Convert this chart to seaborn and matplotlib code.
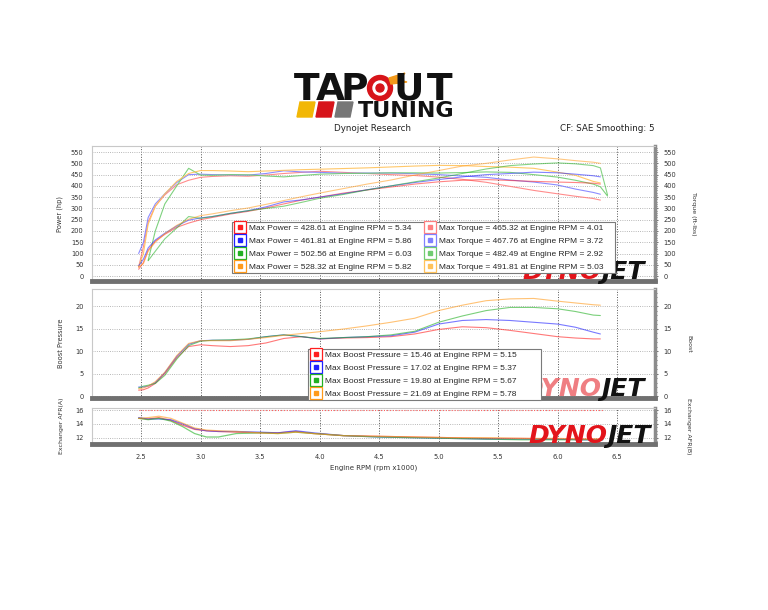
import numpy as np
import pandas as pd
import matplotlib
matplotlib.use("Agg")
import matplotlib.pyplot as plt
import seaborn as sns
from matplotlib.lines import Line2D
from matplotlib.legend_handler import HandlerTuple
from matplotlib.patches import Polygon, Circle
from matplotlib.ticker import MultipleLocator, FormatStrFormatter

sns.set_style("white")
plt.rcParams["font.family"] = ["DejaVu Sans"]

runs = ["Run 1", "Run 2", "Run 3", "Run 4"]
power_colors = ["#ff1f1f", "#2020ff", "#22b022", "#ff9a1a"]
torque_colors = ["#ff8080", "#8080ff", "#70cc70", "#ffc25a"]

# engine rpm (x1000) for power / torque / boost
rpm = [2.48, 2.52, 2.56, 2.62, 2.70, 2.80, 2.90, 3.00, 3.10, 3.25, 3.40, 3.55, 3.70, 3.85, 4.00,
       4.20, 4.40, 4.60, 4.80, 5.00, 5.20, 5.40, 5.60, 5.80, 6.00, 6.15, 6.30, 6.36, 6.42]
nan = np.nan
power_red = [30, 60, 115, 155, 185, 216, 235, 250, 260, 275, 287, 302, 320, 337, 350,
             368, 382, 395, 408, 418, 425, 428, 424, 420, 417, 415, 412, 408, nan]
power_blue = [45, 75, 125, 160, 190, 222, 248, 258, 264, 278, 290, 307, 329, 338, 350,
              365, 383, 400, 415, 428, 440, 450, 455, 461, 458, 452, 445, 440, nan]
power_green = [nan, nan, 68, 110, 165, 213, 264, 256, 264, 278, 290, 300, 310, 327, 345,
               362, 382, 400, 418, 435, 455, 475, 490, 497, 502, 498, 490, 480, 360]
power_orange = [40, 55, 110, 150, 188, 225, 252, 268, 276, 290, 302, 318, 335, 352, 368,
                388, 408, 426, 448, 468, 488, 500, 515, 528, 520, 512, 505, 500, nan]

torque_red = [40, 130, 240, 310, 360, 405, 425, 438, 442, 445, 443, 448, 455, 460, 465,
              460, 455, 450, 446, 439, 429, 416, 398, 380, 365, 354, 344, 337, nan]
torque_blue = [100, 150, 260, 320, 365, 415, 450, 452, 450, 449, 448, 455, 467, 462, 460,
               456, 457, 457, 454, 450, 444, 438, 426, 417, 404, 386, 371, 363, nan]
torque_green = [nan, nan, 70, 200, 320, 400, 478, 448, 447, 450, 449, 444, 440, 446, 452,
                455, 456, 458, 458, 457, 459, 462, 460, 450, 439, 425, 408, 396, 355]
torque_orange = [40, 100, 230, 310, 365, 420, 455, 468, 468, 466, 463, 466, 469, 472, 474,
                 477, 480, 484, 488, 491, 490, 486, 483, 478, 461, 447, 420, 413, nan]

boost_red = [1.3, 1.4, 1.8, 2.8, 5.0, 8.5, 11.0, 11.4, 11.2, 11.0, 11.2, 11.8, 12.8, 13.2, 12.7,
             12.9, 13.0, 13.2, 13.8, 14.8, 15.4, 15.2, 14.6, 13.9, 13.2, 12.9, 12.7, 12.7, nan]
boost_blue = [2.0, 2.0, 2.2, 3.0, 5.2, 8.8, 11.5, 12.3, 12.4, 12.4, 12.6, 13.2, 13.6, 13.2, 12.7,
              13.0, 13.2, 13.4, 14.2, 16.0, 16.8, 17.0, 16.8, 16.4, 16.0, 15.3, 14.2, 13.8, nan]
boost_green = [1.8, 2.2, 2.4, 2.8, 4.6, 8.2, 11.2, 12.2, 12.4, 12.5, 12.7, 13.2, 13.6, 13.2, 12.8,
               13.0, 13.2, 13.6, 14.4, 16.4, 17.8, 19.0, 19.7, 19.7, 19.4, 18.8, 18.0, 17.9, nan]
boost_orange = [1.6, 1.8, 2.2, 3.2, 5.3, 9.0, 11.7, 12.3, 12.3, 12.3, 12.6, 13.0, 13.5, 13.9, 14.3,
                14.9, 15.6, 16.4, 17.3, 19.0, 20.2, 21.2, 21.6, 21.7, 21.1, 20.7, 20.3, 20.2, nan]

afr_rpm = [2.48, 2.56, 2.65, 2.75, 2.85, 2.95, 3.05, 3.15, 3.30, 3.50, 3.65, 3.80, 3.95, 4.20,
           4.50, 4.80, 5.10, 5.40, 5.70, 6.00, 6.20, 6.38]
afr_red = [14.8, 14.7, 14.9, 14.5, 13.8, 13.2, 13.0, 12.9, 12.8, 12.7, 12.7, 12.9, 12.6, 12.3,
           12.2, 12.1, 12.0, 11.9, 11.9, 11.8, 11.8, 11.8]
afr_blue = [14.9, 14.7, 14.7, 14.6, 14.0, 13.3, 13.0, 12.9, 12.9, 12.8, 12.7, 13.0, 12.7, 12.3,
            12.1, 12.0, 11.9, 11.8, 11.8, 11.8, 11.7, 11.7]
afr_green = [14.8, 14.6, 14.8, 14.4, 13.6, 12.6, 12.1, 12.1, 12.6, 12.7, 12.6, 12.8, 12.6, 12.3,
             12.1, 12.0, 11.9, 11.8, 11.7, 11.7, 11.7, 11.7]
afr_orange = [14.8, 14.9, 15.1, 14.8, 14.1, 13.4, 13.1, 13.0, 12.9, 12.7, 12.6, 12.8, 12.6, 12.3,
              12.2, 12.1, 12.0, 12.0, 11.9, 11.9, 11.8, 11.8]
afr_target = 16.0

max_power = [428.61, 461.81, 502.56, 528.32]
max_power_rpm = [5.34, 5.86, 6.03, 5.82]
max_torque = [465.32, 467.76, 482.49, 491.81]
max_torque_rpm = [4.01, 3.72, 2.92, 5.03]
max_boost = [15.46, 17.02, 19.80, 21.69]
max_boost_rpm = [5.15, 5.37, 5.67, 5.78]


def long_frame(x, series):
    parts = [pd.DataFrame({"rpm": x, "value": v, "run": r}) for r, v in zip(runs, series)]
    return pd.concat(parts, ignore_index=True).dropna()


power_df = long_frame(rpm, [power_red, power_blue, power_green, power_orange])
torque_df = long_frame(rpm, [torque_red, torque_blue, torque_green, torque_orange])
boost_df = long_frame(rpm, [boost_red, boost_blue, boost_green, boost_orange])
afr_df = long_frame(afr_rpm, [afr_red, afr_blue, afr_green, afr_orange])

W, H = 768, 610
fig = plt.figure(figsize=(W / 100, H / 100), dpi=100)


def px_axes(x0, y0, x1, y1):
    return fig.add_axes([x0 / W, 1 - y1 / H, (x1 - x0) / W, (y1 - y0) / H])


ax_p = px_axes(92, 146, 655, 281)
ax_b = px_axes(92, 289, 655, 398)
ax_a = px_axes(92, 408, 655, 444)

# --- power / torque ---
sns.lineplot(data=torque_df, x="rpm", y="value", hue="run", hue_order=runs,
             palette=torque_colors, linewidth=0.8, alpha=0.9, legend=False,
             errorbar=None, ax=ax_p)
sns.lineplot(data=power_df, x="rpm", y="value", hue="run", hue_order=runs,
             palette=power_colors, linewidth=0.8, alpha=0.55, legend=False,
             errorbar=None, ax=ax_p)
# --- boost ---
sns.lineplot(data=boost_df, x="rpm", y="value", hue="run", hue_order=runs,
             palette=power_colors, linewidth=0.8, alpha=0.6, legend=False,
             errorbar=None, ax=ax_b)
# --- air fuel ratio ---
sns.lineplot(data=afr_df, x="rpm", y="value", hue="run", hue_order=runs,
             palette=power_colors, linewidth=0.9, alpha=0.6, legend=False,
             errorbar=None, ax=ax_a)
ax_a.hlines(afr_target, afr_rpm[0], afr_rpm[-1], colors="#ff6060", linestyles=":", linewidth=0.8)

xlim = (2.088, 6.819)
tick_kw = dict(labelsize=4.8, colors="#333333", length=2.5, width=0.5)

for ax in (ax_p, ax_b, ax_a):
    ax.set_xlim(*xlim)
    ax.set_xlabel("")
    ax.xaxis.set_major_locator(MultipleLocator(0.5))
    ax.xaxis.set_minor_locator(MultipleLocator(0.05))
    ax.grid(True, which="major", axis="x", linestyle=":", color="#555555", linewidth=0.7)
    ax.grid(True, which="major", axis="y", linestyle=":", color="#a0a0a0", linewidth=0.6)
    ax.tick_params(axis="both", which="both", **tick_kw)
    ax.tick_params(axis="both", which="minor", length=1.5)
    for s in ("left", "top"):
        ax.spines[s].set_color("#c8c8c8")
        ax.spines[s].set_linewidth(0.8)
    ax.spines["bottom"].set_color("#707070")
    ax.spines["bottom"].set_linewidth(3.5)
    ax.spines["right"].set_color("#8c8c8c")
    ax.spines["right"].set_linewidth(2.5)

ax_p.set_ylim(-22, 577)
ax_p.yaxis.set_major_locator(MultipleLocator(50))
ax_p.yaxis.set_minor_locator(MultipleLocator(10))
ax_p.set_ylabel("Power (hp)", fontsize=4.8, color="#333333", labelpad=6)
ax_p.tick_params(axis="x", which="both", labelbottom=False, bottom=False)

ax_b.set_ylim(-0.44, 23.8)
ax_b.yaxis.set_major_locator(MultipleLocator(5))
ax_b.yaxis.set_minor_locator(MultipleLocator(1))
ax_b.set_ylabel("Boost Pressure", fontsize=4.8, color="#333333", labelpad=8)
ax_b.tick_params(axis="x", which="both", labelbottom=False, bottom=False)

ax_a.set_ylim(11.09, 16.29)
ax_a.yaxis.set_major_locator(MultipleLocator(2))
ax_a.yaxis.set_minor_locator(MultipleLocator(0.5))
ax_a.xaxis.set_major_formatter(FormatStrFormatter("%.1f"))
ax_a.set_ylabel("Exchanger AFR(A)", fontsize=4.5, color="#333333", labelpad=8)
ax_a.set_xlabel("Engine RPM (rpm x1000)", fontsize=5, color="#333333", labelpad=3)
ax_a.tick_params(axis="x", which="major", pad=5)

# right-hand axes
for ax, label in ((ax_p, "Torque (ft-lbs)"), (ax_b, "Boost"), (ax_a, "Exchanger AFR(B)")):
    sec = ax.secondary_yaxis("right")
    sec.yaxis.set_major_locator(ax.yaxis.get_major_locator())
    sec.yaxis.set_minor_locator(ax.yaxis.get_minor_locator())
    sec.tick_params(axis="y", which="both", **tick_kw)
    sec.tick_params(axis="y", which="minor", length=1.5)
    sec.spines["right"].set_visible(False)
    sec.set_ylabel(label, fontsize=4.5, color="#333333", rotation=270, labelpad=14)


# legends
def icon(color):
    outer = Line2D([], [], linestyle="none", marker="s", markersize=8,
                   markerfacecolor="white", markeredgecolor=color, markeredgewidth=0.9)
    inner = Line2D([], [], linestyle="none", marker="s", markersize=3.4,
                   markerfacecolor=color, markeredgecolor=color)
    return (outer, inner)


handles = [icon(c) for c in power_colors] + [icon(c) for c in torque_colors]
labels = [f"Max Power = {v:.2f} at Engine RPM = {r:.2f}" for v, r in zip(max_power, max_power_rpm)]
labels += [f"Max Torque = {v:.2f} at Engine RPM = {r:.2f}    " for v, r in zip(max_torque, max_torque_rpm)]
leg_kw = dict(handler_map={tuple: HandlerTuple(ndivide=1)},
              prop={"family": "Liberation Sans", "size": 6.0}, frameon=True,
              fancybox=False, framealpha=1, edgecolor="#7a7a7a", borderaxespad=0,
              handlelength=1.3, handletextpad=0.45, labelspacing=0.6, borderpad=0.3,
              loc="upper left")
lg = ax_p.legend(handles, labels, ncol=2, columnspacing=1.5,
                 bbox_to_anchor=(0.249, 0.437), **leg_kw)
lg.get_frame().set_linewidth(0.8)
lg.set_zorder(10)

bhandles = [icon(c) for c in power_colors]
blabels = [f"Max Boost Pressure = {v:.2f} at Engine RPM = {r:.2f}         " for v, r in zip(max_boost, max_boost_rpm)]
lg2 = ax_b.legend(bhandles, blabels, bbox_to_anchor=(0.384, 0.45), **leg_kw)
lg2.get_frame().set_linewidth(0.8)
lg2.set_zorder(10)

# DYNOJET watermarks
for ax, xs, red_alpha in ((ax_p, 0.905, 1.0), (ax_b, 0.905, 0.55), (ax_a, 0.915, 1.0)):
    wm = dict(transform=ax.transAxes, fontsize=18, fontweight="heavy", style="italic",
              va="baseline", zorder=4, clip_on=False)
    ax.text(xs, 0.015, "DYNO", ha="right", color="#e3141b", alpha=red_alpha, **wm)
    ax.text(xs, 0.015, "JET", ha="left", color="#111111", **wm)

# header
fig.text(372 / W, 1 - 128 / H, "Dynojet Research", ha="center", va="center",
         fontsize=6.3, color="#222222")
fig.text(655 / W, 1 - 128 / H, "CF: SAE Smoothing: 5", ha="right", va="center",
         fontsize=6.3, color="#222222")

logo = px_axes(290, 68, 460, 122)
logo.set_xlim(290, 460)
logo.set_ylim(122, 68)
logo.axis("off")
for letter, cx in (("T", 307), ("A", 330), ("P", 354), ("U", 409), ("T", 440)):
    logo.text(cx, 100, letter, ha="center", va="baseline", fontsize=27, fontweight="heavy",
              color="#111111")
logo.add_patch(Circle((380, 88), 12.5, color="#d7141a"))
logo.add_patch(Circle((380, 88), 7, color="white"))
logo.add_patch(Circle((380, 88), 4, color="#d7141a"))
logo.add_patch(Polygon([(389, 78), (405, 73), (399, 80), (407, 82), (391, 84)], closed=True,
                       color="#f39a1b"))
logo.text(455, 117, "TUNING", ha="right", va="baseline", fontsize=16, fontweight="heavy",
          color="#111111")
for x0, c in ((297, "#f2b705"), (316, "#d7141a"), (335, "#777777")):
    logo.add_patch(Polygon([(x0 + 3, 102), (x0 + 18, 102), (x0 + 15, 117), (x0, 117)],
                           closed=True, color=c))

fig.savefig("out.png", dpi=100, facecolor="white")
